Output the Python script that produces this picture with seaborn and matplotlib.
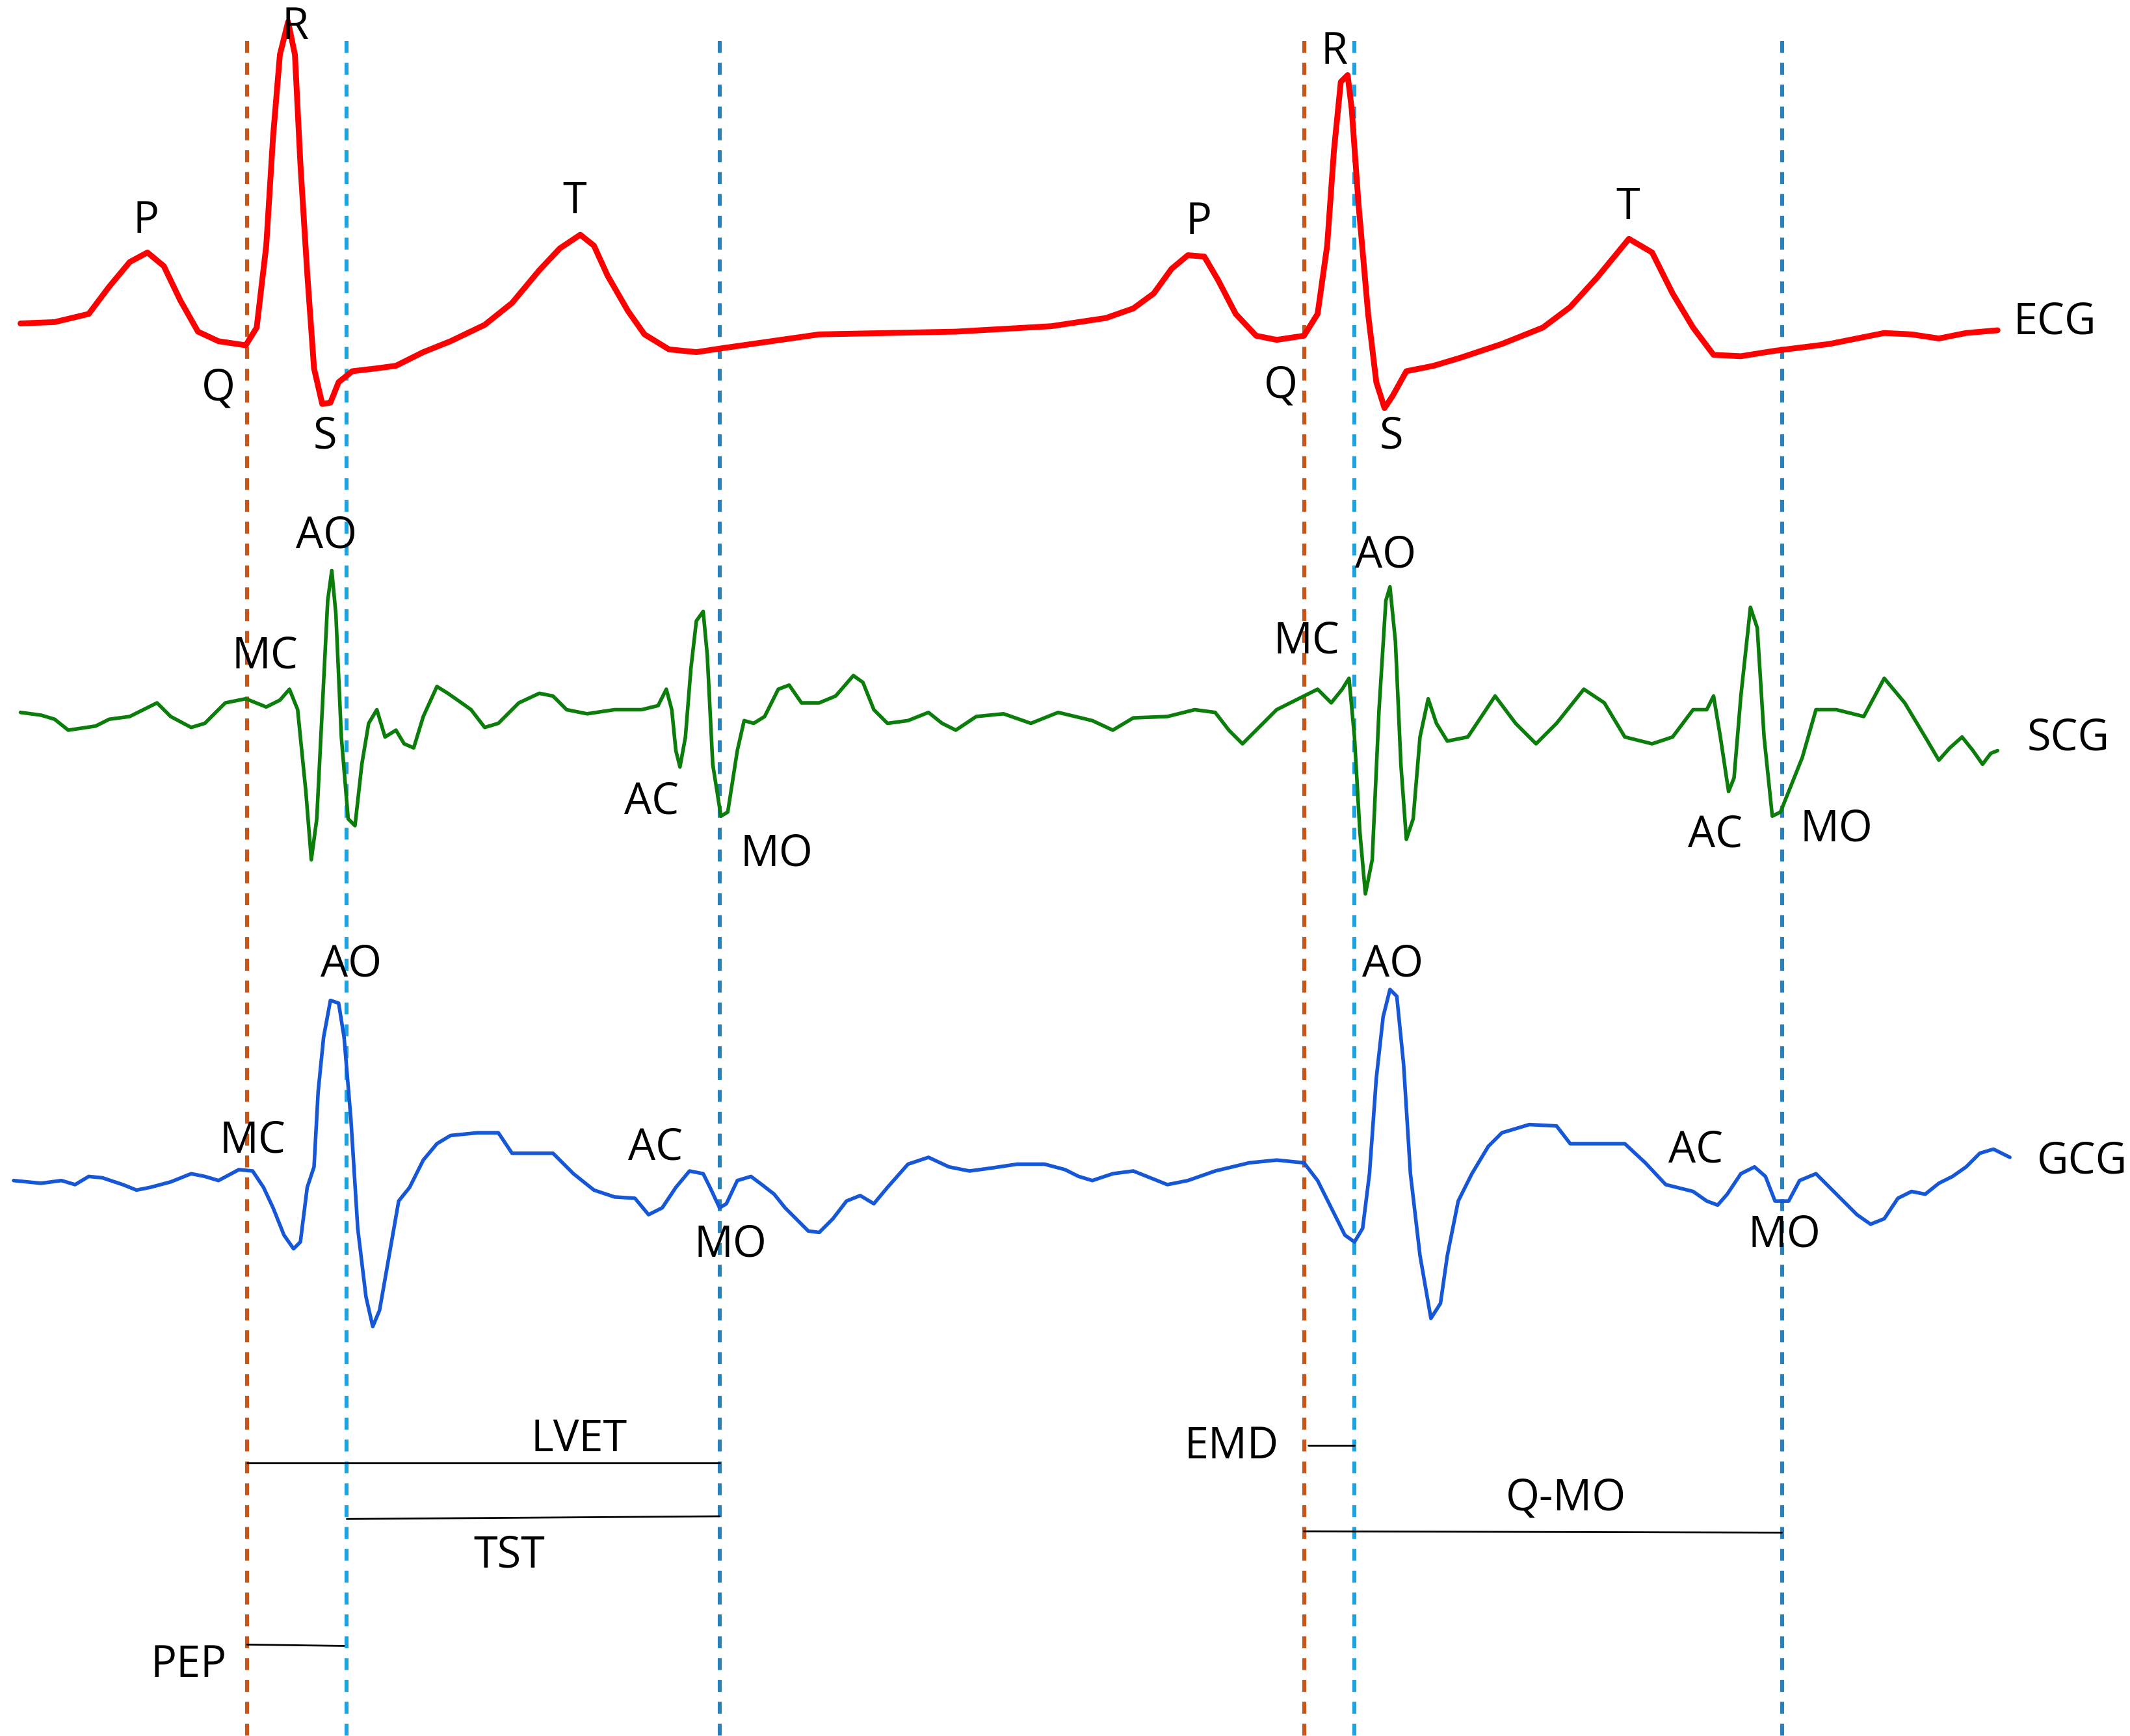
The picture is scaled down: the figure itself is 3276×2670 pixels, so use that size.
import matplotlib
matplotlib.use("Agg")
import matplotlib.pyplot as plt
import seaborn as sns

# traces (image units, y grows downward)
ecg_pts = [(15,237),(40,236),(65,230),(80,210),(95,192),(108,185),(120,195),(132,220),(145,243),(160,250),
           (180,253),(188,240),(195,180),(200,100),(205,40),(211,16),(216,40),(220,120),(225,200),(230,270),
           (236,296),(242,295),(248,280),(258,272),(275,270),(290,268),(310,258),(330,250),(355,238),(375,222),
           (395,198),(410,182),(425,172),(435,180),(445,202),(460,228),(472,245),(490,256),(510,258),(530,255),
           (600,245),(700,243),(770,239),(810,233),(830,226),(845,215),(858,197),(870,187),(882,188),(892,205),
           (905,230),(920,246),(935,249),(955,246),(965,230),(972,180),(977,110),(982,60),(987,55),(990,80),
           (995,150),(1002,230),(1008,280),(1014,299),(1020,290),(1030,272),(1050,268),(1070,262),(1100,252),
           (1130,240),(1150,225),(1170,203),(1193,175),(1210,185),(1225,215),(1240,240),(1255,260),(1275,261),
           (1300,257),(1340,252),(1380,244),(1400,245),(1420,248),(1440,244),(1463,242)]

scg_pts = [(15,522),(30,524),(40,527),(50,535),(70,532),(80,527),(95,525),(105,520),(115,515),(125,525),
           (140,533),(150,530),(165,515),(180,512),(195,518),(205,513),(212,505),(218,520),(224,580),(228,630),
           (232,600),(236,520),(240,440),(243,418),(246,450),(250,540),(255,600),(260,605),(265,560),(270,530),
           (276,520),(282,540),(290,535),(296,545),(303,548),(310,525),(320,503),(328,508),(338,515),(345,520),
           (355,533),(365,530),(380,515),(395,508),(405,510),(415,520),(430,523),(450,520),(470,520),(482,517),
           (488,505),(492,520),(495,550),(498,562),(502,540),(506,490),(510,455),(515,448),(518,480),(522,560),
           (528,598),(533,595),(540,550),(545,528),(552,530),(560,525),(570,505),(578,502),(587,515),(600,515),
           (612,510),(625,495),(632,500),(640,520),(650,530),(665,528),(680,522),(690,530),(700,535),(715,525),
           (735,523),(755,530),(775,522),(800,528),(815,535),(830,526),(855,525),(875,520),(890,522),(900,535),
           (910,545),(920,535),(935,520),(955,510),(965,505),(975,515),(983,505),(988,497),(992,540),(996,610),
           (1000,655),(1005,630),(1010,520),(1015,440),(1018,430),(1022,470),(1026,560),(1030,615),(1035,600),
           (1040,540),(1046,512),(1052,530),(1060,543),(1075,540),(1085,525),(1095,510),(1110,530),(1125,545),
           (1140,530),(1160,505),(1175,515),(1190,540),(1210,545),(1225,540),(1240,520),(1250,520),(1255,510),
           (1260,540),(1266,580),(1270,570),(1275,510),(1282,445),(1287,460),(1292,540),(1298,598),(1304,595),
           (1312,575),(1320,555),(1330,520),(1345,520),(1365,525),(1380,497),(1395,515),(1410,540),(1420,557),
           (1428,548),(1437,540),(1445,550),(1452,560),(1458,552),(1463,550)]

gcg_pts = [(10,865),(30,867),(45,865),(55,868),(65,862),(75,863),(90,868),(100,872),(110,870),(125,866),
           (140,860),(150,862),(160,865),(175,857),(185,858),(193,870),(200,885),(208,905),(215,915),(220,910),
           (225,870),(230,855),(233,800),(237,760),(242,733),(248,735),(252,760),(257,820),(262,900),(268,950),
           (273,972),(278,960),(285,920),(292,880),(300,870),(310,850),(320,838),(330,832),(350,830),(365,830),
           (375,845),(390,845),(405,845),(420,860),(435,872),(450,877),(465,878),(475,890),(485,885),(495,870),
           (505,858),(515,860),(520,870),(527,885),(532,882),(540,865),(550,862),(558,868),(567,875),(575,885),
           (585,895),(592,902),(600,903),(610,893),(620,880),(630,876),(640,882),(650,870),(665,853),(680,848),
           (695,855),(710,858),(725,856),(745,853),(765,853),(780,857),(790,862),(800,865),(815,860),(830,858),
           (840,862),(855,868),(870,865),(890,858),(915,852),(935,850),(955,852),(965,865),(975,885),(985,905),
           (992,910),(998,900),(1003,860),(1008,790),(1013,745),(1018,725),(1023,730),(1028,780),(1033,860),
           (1040,920),(1048,966),(1055,955),(1060,920),(1068,880),(1078,860),(1090,840),(1100,830),(1120,824),
           (1140,825),(1150,838),(1175,838),(1190,838),(1205,852),(1220,868),(1240,873),(1250,880),(1258,883),
           (1265,875),(1275,860),(1285,855),(1293,862),(1300,880),(1310,880),(1318,865),(1330,860),(1340,870),
           (1350,880),(1360,890),(1370,897),(1380,893),(1390,878),(1400,873),(1410,875),(1420,867),(1430,862),
           (1440,855),(1450,845),(1460,842),(1472,848)]

# vertical event markers: x, colour
vlines = [(181, "#c8561a"), (955, "#c8561a"), (254, "#1ca3e0"), (992, "#1ca3e0"),
          (527, "#2a80b8"), (1305, "#2a80b8")]

# interval bars: x0, x1, y0, y1
intervals = [(181, 527, 1072, 1072), (254, 527, 1113, 1111), (181, 252, 1205, 1206),
             (958, 992, 1059, 1059), (955, 1305, 1122, 1123)]

labels = [("P",107,162),("R",216,20),("Q",160,285),("S",238,320),("T",421,148),
          ("P",878,163),("R",977,38),("Q",938,283),("S",1019,320),("T",1192,152),("ECG",1505,236),
          ("AO",239,393),("MC",194,481),("AC",477,588),("MO",569,626),
          ("AO",1015,407),("MC",957,470),("AC",1256,612),("MO",1345,608),("SCG",1515,541),
          ("AO",257,707),("MC",185,836),("AC",480,841),("MO",535,912),
          ("AO",1020,707),("AC",1242,843),("MO",1307,905),("GCG",1525,851),
          ("LVET",424,1055),("TST",373,1140),("PEP",138,1220),("EMD",902,1060),("Q-MO",1147,1098)]

sns.set_style("white")
plt.rcParams['font.family'] = ['Open Sans', 'DejaVu Sans']

fig = plt.figure(figsize=(16.38, 13.35), dpi=200)
ax = fig.add_axes([0, 0, 1, 1])

for xv, col in vlines:
    ax.plot([xv, xv], [30, 1272], color=col, lw=2.2, ls=(0, (3, 2.5)), zorder=1)

for x0, x1, y0, y1 in intervals:
    ax.plot([x0, x1], [y0, y1], color="black", lw=1.0, zorder=2)

for pts, col, lw in [(ecg_pts, "#ff0000", 3.2), (scg_pts, "#0a7d0a", 2.0), (gcg_pts, "#1557d6", 2.0)]:
    xs = [p[0] for p in pts]
    ys = [p[1] for p in pts]
    sns.lineplot(x=xs, y=ys, sort=False, estimator=None, color=col, lw=lw, ax=ax, zorder=3,
                 solid_joinstyle="round", solid_capstyle="round")

for txt, xv, yv in labels:
    ax.text(xv, yv, txt, fontsize=24, ha="center", va="center", color="black", zorder=4)

ax.set_xlim(0, 1560)
ax.set_ylim(1272, 0)
ax.axis("off")
fig.savefig("out.png", dpi=200)
